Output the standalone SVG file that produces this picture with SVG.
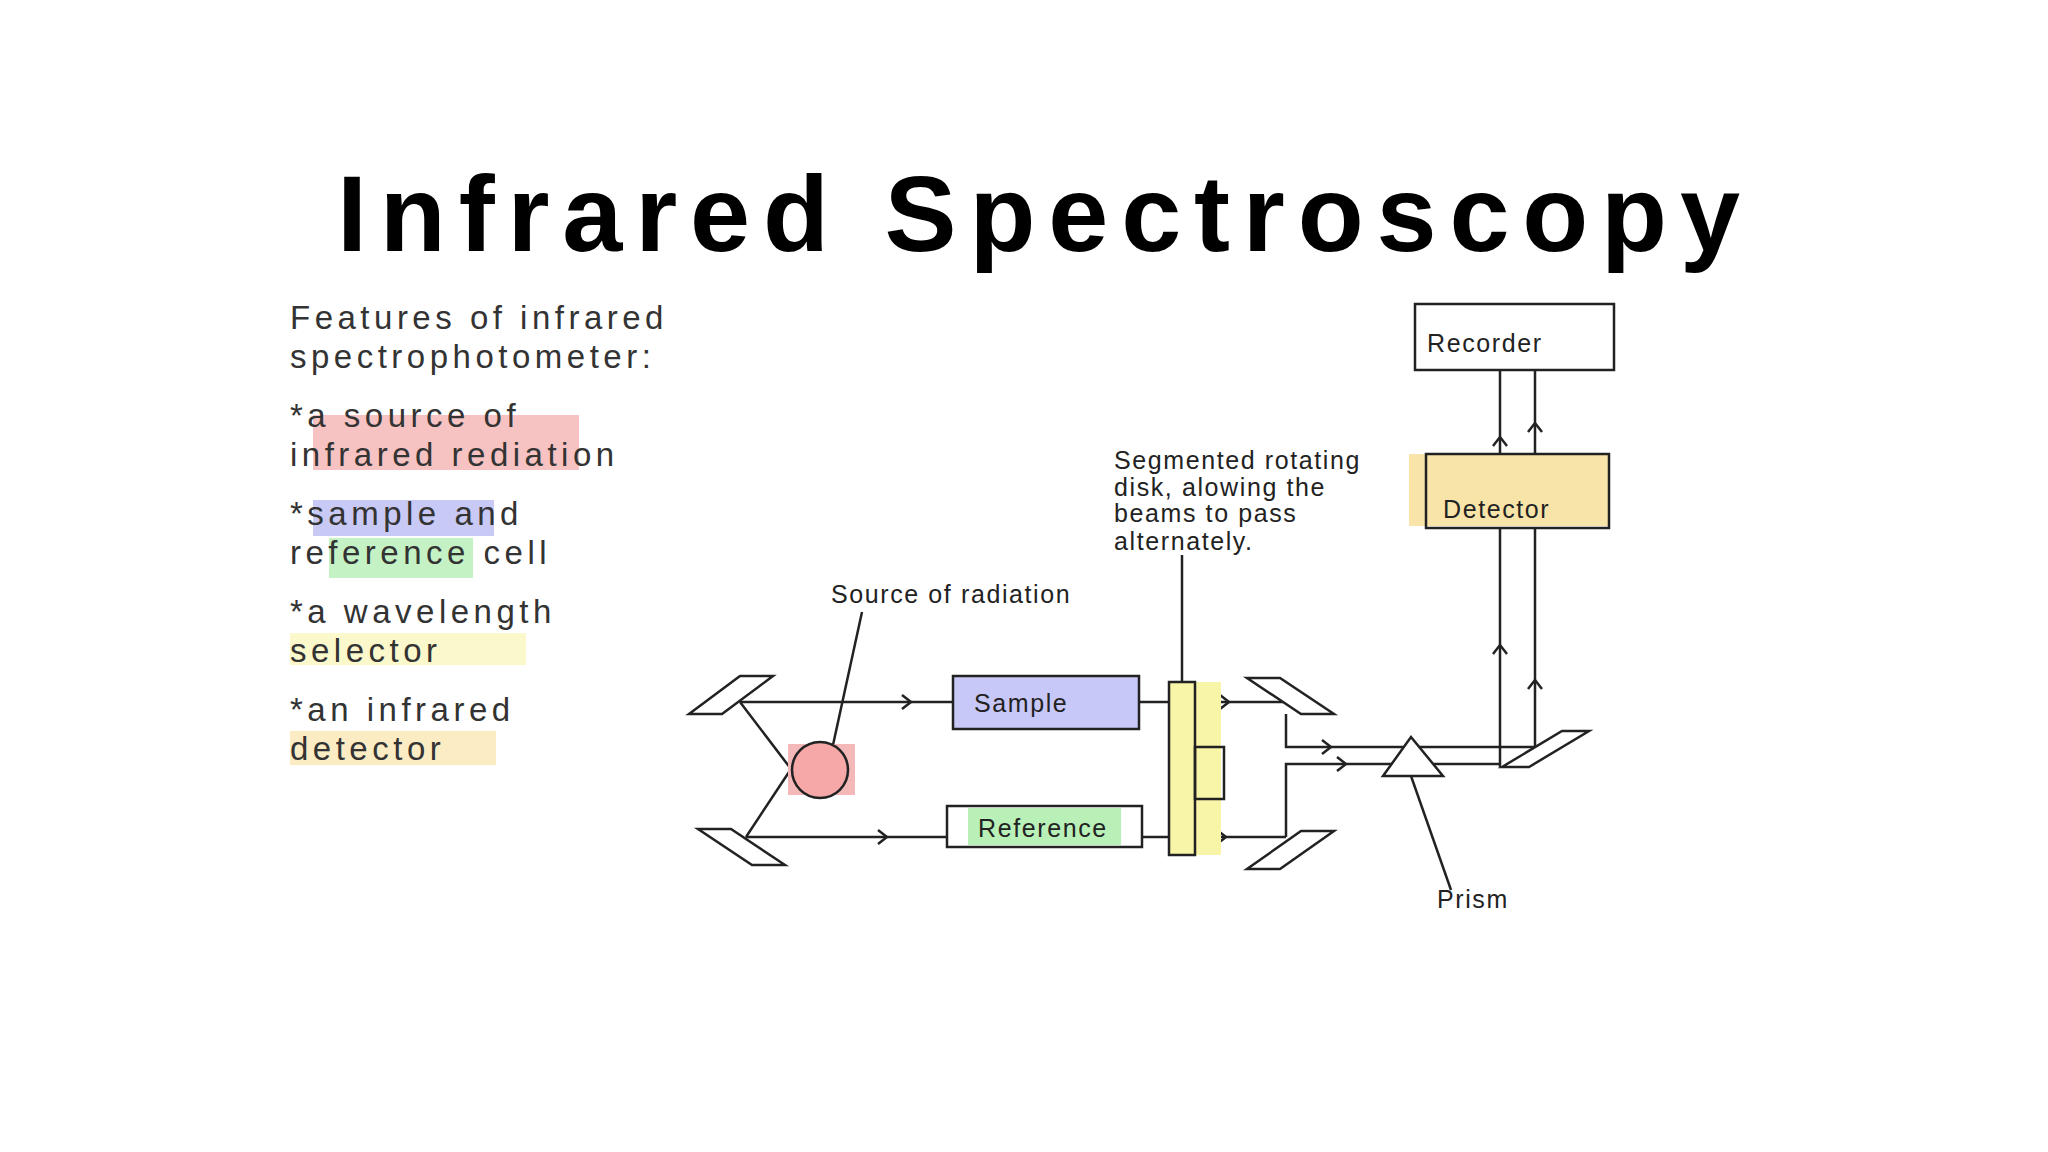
<svg xmlns="http://www.w3.org/2000/svg" xmlns:xlink="http://www.w3.org/1999/xlink" width="2048" height="1152" viewBox="0 0 2048 1152">
<style>
.ln{fill:none;stroke:#222;stroke-width:2.5}
.mir{fill:#fff;stroke:#222;stroke-width:2.5}
.lbl{font-family:"Liberation Sans",Arial,sans-serif;font-size:25px;letter-spacing:1.6px;fill:#222}
.ft{font-family:"Liberation Sans",Arial,sans-serif;font-size:33px;letter-spacing:4.5px;fill:#333}
</style>
<defs>
<path id="chev" d="M-9,-7 L0,0 L-9,7" fill="none" stroke="#222" stroke-width="2.5"/>
</defs>
<rect width="2048" height="1152" fill="#fff"/>
<text x="337" y="251" font-family="Liberation Sans,Arial,sans-serif" font-weight="bold" font-size="108" fill="#000" textLength="1403" lengthAdjust="spacing">Infrared Spectroscopy</text>
<g id="features">
<rect x="313" y="415" width="266" height="55" fill="#f6c2c2"/>
<rect x="313" y="500" width="181" height="36" fill="#c9c9f5"/>
<rect x="329" y="538" width="144" height="40" fill="#c4f2c4"/>
<rect x="290" y="633" width="236" height="32" fill="#fbf8cc"/>
<rect x="290" y="731" width="206" height="34" fill="#fbecc4"/>
<text class="ft" x="290" y="329">Features of infrared</text>
<text class="ft" x="290" y="368">spectrophotometer:</text>
<text class="ft" x="290" y="427">*a source of</text>
<text class="ft" x="290" y="466">infrared rediation</text>
<text class="ft" x="290" y="525">*sample and</text>
<text class="ft" x="290" y="564">reference cell</text>
<text class="ft" x="290" y="623">*a wavelength</text>
<text class="ft" x="290" y="662">selector</text>
<text class="ft" x="290" y="721">*an infrared</text>
<text class="ft" x="290" y="760">detector</text>
</g>
<g id="connectors">
<path class="ln" d="M740,702 L953,702 M1139,702 L1283,702"/>
<path class="ln" d="M746,837 L947,837 M1142,837 L1286,837"/>
<path class="ln" d="M740,702 L791,769 L746,837"/>
<path class="ln" d="M1286,714 L1286,747 L1535,747 M1286,837 L1286,764 L1500,764"/>
<path class="ln" d="M1500,370 L1500,454 M1535,370 L1535,454 M1500,528 L1500,767 M1535,528 L1535,747"/>
<path class="ln" d="M862,612 L833,745"/>
<path class="ln" d="M1182,555 L1182,682"/>
<path class="ln" d="M1411,776 L1451,890"/>
<use xlink:href="#chev" transform="translate(911,702)"/>
<use xlink:href="#chev" transform="translate(1229,702)"/>
<use xlink:href="#chev" transform="translate(887,837)"/>
<use xlink:href="#chev" transform="translate(1226,837)"/>
<use xlink:href="#chev" transform="translate(1331,747)"/>
<use xlink:href="#chev" transform="translate(1346,764)"/>
<use xlink:href="#chev" transform="translate(1500,437) rotate(-90)"/>
<use xlink:href="#chev" transform="translate(1535,423) rotate(-90)"/>
<use xlink:href="#chev" transform="translate(1500,645) rotate(-90)"/>
<use xlink:href="#chev" transform="translate(1535,680) rotate(-90)"/>
</g>
<g id="mirrors">
<polygon class="mir" points="689,714 740,676 773,676 722,714"/>
<polygon class="mir" points="698,829 731,829 785,865 752,865"/>
<polygon class="mir" points="1247,678 1280,678 1334,714 1301,714"/>
<polygon class="mir" points="1247,869 1301,831 1334,831 1280,869"/>
<polygon class="mir" points="1502,767 1562,731 1589,731 1529,767"/>
</g>
<g id="source">
<rect x="788" y="744" width="67" height="51" fill="#f4b8b8"/>
<circle cx="820" cy="770" r="28" fill="#f6a8a8" stroke="#222" stroke-width="2.5"/>
<text class="lbl" x="831" y="603">Source of radiation</text>
</g>
<g id="sample">
<rect x="953" y="676" width="186" height="53" fill="#c8c8f8" stroke="#222" stroke-width="2.5"/>
<text class="lbl" x="974" y="712">Sample</text>
</g>
<g id="reference">
<rect x="947" y="806" width="195" height="41" fill="#fff" stroke="#222" stroke-width="2.5"/>
<rect x="968" y="808" width="153" height="37" fill="#b8f0b8"/>
<text class="lbl" x="978" y="837">Reference</text>
</g>
<g id="disk">
<rect x="1169" y="682" width="52" height="173" fill="#f8f4a8"/>
<rect x="1169" y="682" width="26" height="173" fill="none" stroke="#222" stroke-width="2.5"/>
<rect x="1195" y="747" width="29" height="52" fill="none" stroke="#222" stroke-width="2.5"/>
<text class="lbl" font-size="24"><tspan x="1114" y="469">Segmented rotating</tspan><tspan x="1114" y="496">disk, alowing the</tspan><tspan x="1114" y="522">beams to pass</tspan><tspan x="1114" y="550">alternately.</tspan></text>
</g>
<g id="prism">
<polygon class="mir" points="1383,776 1411,737 1443,776"/>
<text class="lbl" x="1437" y="908">Prism</text>
</g>
<g id="detector">
<rect x="1409" y="454" width="200" height="72" fill="#f8e4a8"/>
<rect x="1426" y="454" width="183" height="74" fill="none" stroke="#222" stroke-width="2.5"/>
<text class="lbl" x="1443" y="518">Detector</text>
</g>
<g id="recorder">
<rect x="1415" y="304" width="199" height="66" fill="#fff" stroke="#222" stroke-width="2.5"/>
<text class="lbl" x="1427" y="352">Recorder</text>
</g>
</svg>
